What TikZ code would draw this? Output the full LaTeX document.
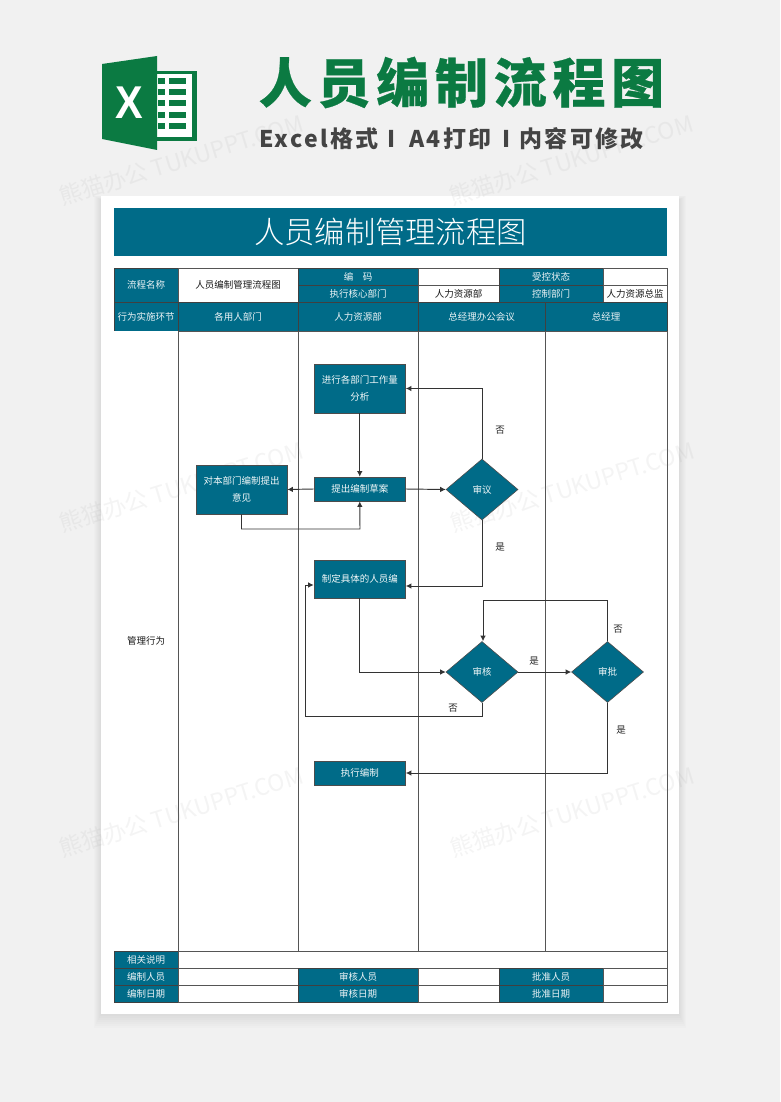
\documentclass[tikz,border=0pt]{standalone}
\usepackage{fontspec}
\usetikzlibrary{shapes.geometric,arrows.meta}
\setmainfont{Noto Sans CJK SC}
\newfontfamily\cjk{Noto Sans CJK SC}
\newfontfamily\cjklight[UprightFont=* Light]{Noto Sans CJK SC}
\newfontfamily\cjkhead[LetterSpace=10.8,BoldFeatures={FakeBold=.5}]{Noto Sans CJK SC}
\newfontfamily\cjksub[LetterSpace=10]{Noto Sans CJK SC}
\newfontfamily\logofont{Liberation Sans}
\definecolor{teal1}{HTML}{006B88}
\definecolor{green1}{HTML}{0B7A42}
\definecolor{grid1}{HTML}{555555}
\definecolor{wire1}{HTML}{333333}
\definecolor{subc}{HTML}{444444}
\definecolor{bg1}{HTML}{F1F1F1}
\definecolor{mark1}{HTML}{8A8A8A}
\tikzset{
  tealcell/.style={draw=black!75,line width=.7pt,fill=teal1,text=white!92!teal1,inner sep=0pt,font=\fontsize{9.5}{16}\selectfont,align=center},
  whitecell/.style={draw=grid1,line width=1pt,fill=white,text=black!90,inner sep=0pt,font=\fontsize{9.5}{16}\selectfont,align=center},
  flowbox/.style={draw=black!70,line width=.7pt,fill=teal1,text=white!95!teal1,inner sep=0pt,font=\fontsize{9.5}{16.5}\selectfont,align=center},
  flowdia/.style={diamond,draw=black!70,line width=.6pt,fill=teal1,text=white!95!teal1,inner sep=0pt,font=\fontsize{9.5}{12}\selectfont,shape aspect=1.18,minimum width=72pt,minimum height=61pt},
  link/.style={draw=wire1,line width=.95pt,-{Latex[length=5.5pt,width=5.5pt]}},
  tag/.style={font=\fontsize{9.5}{12}\selectfont,text=black!85,inner sep=0pt},
  wmark/.style={font=\fontsize{23}{26}\selectfont,text=mark1,opacity=.09,rotate=17,inner sep=0pt},
  logocell/.style={fill=green1,draw=none},
}
\newcommand{\tcell}[7]{% name style x1 y1 x2 y2 text
  \pgfmathsetmacro{\cw}{#5-#3}\pgfmathsetmacro{\ch}{#6-#4}
  \pgfmathsetmacro{\cx}{(#3+#5)/2}\pgfmathsetmacro{\cy}{(#4+#6)/2}
  \node[#2,minimum width=\cw pt,minimum height=\ch pt] (#1) at (\cx,\cy) {#7};}
\begin{document}
\begin{tikzpicture}[x=1pt,y=-1pt]
\useasboundingbox (0,0) rectangle (780,1102);
\fill[bg1] (0,0) rectangle (780,1102);
% card shadow
\foreach \s in {14,12,10,8,6,4,2}{
  \fill[black,opacity=.012] (101-\s*.5,196+4-\s*.3) rectangle (679+\s*.5,1014+\s);
}
\fill[white] (101,196) rectangle (679,1014);
% watermarks on the page background
\node[wmark] (w1) at (181,160) {熊猫办公 TUKUPPT.COM};
\node[wmark] (w2) at (571,160) {熊猫办公 TUKUPPT.COM};
% logo
\fill[green1] (157,71) rectangle (197,141);
\fill[white] (157,74) rectangle (192,137);
\foreach \r in {78,89.5,100.5,112,123.5}{
  \fill[logocell] (158,\r) rectangle (164.5,\r+6);
  \fill[logocell] (169,\r) rectangle (186,\r+6);
}
\fill[green1] (102,64) -- (157,56) -- (157,150) -- (102,139) -- cycle;
\node[text=white,inner sep=0pt,font=\logofont\bfseries\fontsize{46}{46}\selectfont,xscale=.9] (xl) at (129,103) {X};
% headline
\node[text=green1,inner sep=0pt,font=\cjkhead\bfseries\fontsize{53}{60}\selectfont] (hd) at (461.5,82.5) {人员编制流程图};
\node[text=subc,inner sep=0pt,font=\cjksub\bfseries\fontsize{23}{26}\selectfont] (sb) at (451.5,139) {Excel格式\hspace{9pt}I\hspace{14pt}A4打印\hspace{11pt}I\hspace{9pt}内容可修改};
% title bar
\tcell{tb}{fill=teal1,inner sep=0pt,text=white,font=\cjklight\fontsize{30.3}{34}\selectfont}{114}{208}{667}{256}{人员编制管理流程图}
% top table
\tcell{c1}{tealcell}{114}{268.5}{178}{302}{流程名称}
\tcell{c2}{whitecell}{178}{268.5}{298}{302}{人员编制管理流程图}
\tcell{c3}{tealcell}{298}{268.5}{418}{285}{编　码}
\tcell{c4}{whitecell}{418}{268.5}{499}{285}{}
\tcell{c5}{tealcell}{499}{268.5}{603}{285}{受控状态}
\tcell{c6}{whitecell}{603}{268.5}{667}{285}{}
\tcell{c7}{tealcell}{298}{285}{418}{302}{执行核心部门}
\tcell{c8}{whitecell}{418}{285}{499}{302}{人力资源部}
\tcell{c9}{tealcell}{499}{285}{603}{302}{控制部门}
\tcell{c10}{whitecell}{603}{285}{667}{302}{人力资源总监}
% header row
\tcell{h1}{tealcell}{114}{302}{178}{331}{行为实施环节}
\tcell{h2}{tealcell}{178}{302}{298}{331}{各用人部门}
\tcell{h3}{tealcell}{298}{302}{418}{331}{人力资源部}
\tcell{h4}{tealcell}{418}{302}{545}{331}{总经理办公会议}
\tcell{h5}{tealcell}{545}{302}{667}{331}{总经理}
% body
\tcell{l1}{whitecell,draw=none}{114}{331}{178}{951}{管理行为}
\tcell{l2}{whitecell}{178}{331}{298}{951}{}
\tcell{l3}{whitecell}{298}{331}{418}{951}{}
\tcell{l4}{whitecell}{418}{331}{545}{951}{}
\tcell{l5}{whitecell}{545}{331}{667}{951}{}
\node[wmark] (w3) at (181,487) {熊猫办公 TUKUPPT.COM};
\node[wmark] (w4) at (572,487) {熊猫办公 TUKUPPT.COM};
\node[wmark] (w5) at (181,812) {熊猫办公 TUKUPPT.COM};
\node[wmark] (w6) at (572,812) {熊猫办公 TUKUPPT.COM};
% bottom table
\tcell{f1}{tealcell}{114}{951}{178}{968}{相关说明}
\tcell{f2}{whitecell}{178}{951}{667}{968}{}
\tcell{f3}{tealcell}{114}{968}{178}{985}{编制人员}
\tcell{f4}{whitecell}{178}{968}{298}{985}{}
\tcell{f5}{tealcell}{298}{968}{418}{985}{审核人员}
\tcell{f6}{whitecell}{418}{968}{499}{985}{}
\tcell{f7}{tealcell}{499}{968}{603}{985}{批准人员}
\tcell{f8}{whitecell}{603}{968}{667}{985}{}
\tcell{f9}{tealcell}{114}{985}{178}{1002}{编制日期}
\tcell{f10}{whitecell}{178}{985}{298}{1002}{}
\tcell{f11}{tealcell}{298}{985}{418}{1002}{审核日期}
\tcell{f12}{whitecell}{418}{985}{499}{1002}{}
\tcell{f13}{tealcell}{499}{985}{603}{1002}{批准日期}
\tcell{f14}{whitecell}{603}{985}{667}{1002}{}
% flow nodes
\tcell{b1}{flowbox}{314}{364}{405.5}{413}{进行各部门工作量\\分析}
\tcell{b2}{flowbox}{314}{477}{405.5}{501}{提出编制草案}
\tcell{b3}{flowbox}{314}{560}{405.5}{598}{制定具体的人员编}
\tcell{b4}{flowbox}{196}{465}{287}{514}{对本部门编制提出\\意见}
\tcell{b5}{flowbox}{314}{761}{405.5}{785}{执行编制}
\node[flowdia] (d1) at (482,489.5) {审议};
\node[flowdia] (d2) at (482,672) {审核};
\node[flowdia] (d3) at (607.5,672) {审批};
% helper corners
\coordinate (lp) at (360,529);
\coordinate (fa) at (305.5,716);
\coordinate (ft) at (483,600);
% connectors
\draw[link] (b1.south) -- (b2.north);
\draw[link] (b2.west) -- (b4.east);
\draw[link] (b4.south) |- (lp) -- (b2.south);
\draw[link] (b2.east) -- (d1.west);
\draw[link] (d1.north) |- (b1.east);
\draw[link] (d1.south) |- ([yshift=-7pt]b3.east);
\draw[link] (b3.south) |- (d2.west);
\draw[link] (d2.east) -- (d3.west);
\draw[link] (d3.north) |- (ft) -- (d2.north-|ft);
\draw[link] (d2.south) |- (fa) |- ([yshift=-6pt]b3.west);
\draw[link] (d3.south) |- (b5.east);
% labels
\node[tag] (t1) at (500,430) {否};
\node[tag] (t2) at (500,547) {是};
\node[tag] (t3) at (534,661) {是};
\node[tag] (t4) at (618,629) {否};
\node[tag] (t5) at (453,708) {否};
\node[tag] (t6) at (621,730) {是};
\end{tikzpicture}
\end{document}
